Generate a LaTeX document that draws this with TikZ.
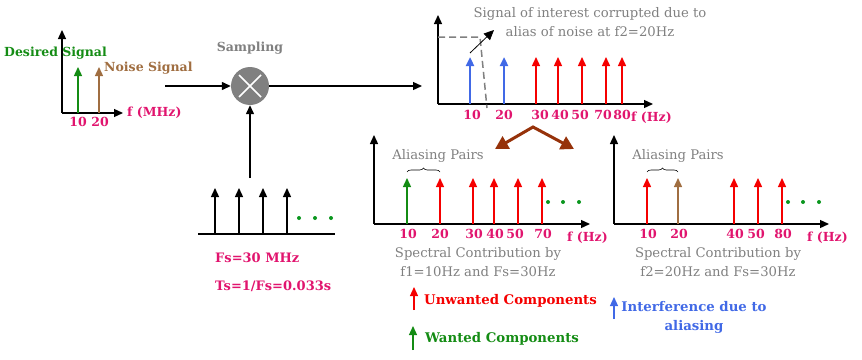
\documentclass[tikz,border=0pt]{standalone}
\usepackage{fontspec}
\setmainfont{DejaVu Serif}
\usepackage{xcolor}
\usetikzlibrary{arrows.meta,decorations.pathreplacing}

\definecolor{numpink}{RGB}{225,20,110}
\definecolor{desgreen}{RGB}{20,140,20}
\definecolor{dotgreen}{RGB}{10,150,30}
\definecolor{noisebrown}{RGB}{160,110,65}
\definecolor{pairbrown}{RGB}{150,50,10}
\definecolor{unwred}{RGB}{245,0,0}
\definecolor{intblue}{RGB}{65,105,230}
\definecolor{notegray}{RGB}{128,128,128}

\begin{document}
\begin{tikzpicture}[x=1pt,y=-1pt,>={Triangle[width=8pt,length=9pt]},
  axisline/.style={black,line width=1.3pt,->},
  flow/.style={black,line width=1.3pt,->},
  stem/.style={line width=1.4pt,-{Triangle[width=8pt,length=9pt]}},
  num/.style={text=numpink,font=\bfseries\fontsize{12.5}{14}\selectfont,inner sep=0pt},
  note/.style={text=notegray,font=\fontsize{13.2}{18.5}\selectfont,align=center,inner sep=0pt},
  tag/.style={font=\bfseries\fontsize{12.5}{19}\selectfont,inner sep=0pt,anchor=west},
  bigtag/.style={tag,font=\bfseries\fontsize{13.3}{19}\selectfont},
  pairbrace/.style={decorate,decoration={brace,amplitude=4pt},line width=0.6pt}]
\useasboundingbox (0,0) rectangle (862,359);

% input spectrum
\coordinate (in0) at (62,113);
\draw[axisline] (in0) -- ++(0,-83);
\draw[axisline] (in0) -- ++(61,0);
\draw[stem,desgreen] (78,113) -- (78,67);
\draw[stem,noisebrown] (99,113) -- (99,67);
\node[num] (in10) at (78,122) {10};
\node[num] (in20) at (100,122) {20};
\node[num,anchor=west] (inf) at (127,113) {f (MHz)};
\node[tag,text=desgreen] (desired) at (4,53) {Desired Signal};
\node[tag,text=noisebrown] (noise) at (104,68) {Noise Signal};

% mixer
\node[circle,fill=notegray,minimum size=38pt,inner sep=0pt] (mix) at (250,86) {};
\draw[white,line width=1.6pt] ([shift={(-11,-11)}]mix.center) -- ([shift={(11,11)}]mix.center);
\draw[white,line width=1.6pt] ([shift={(-11,11)}]mix.center) -- ([shift={(11,-11)}]mix.center);
\node[tag,anchor=center,text=notegray] (sampling) at (250,48) {Sampling};
\coordinate (src) at (165,86);
\coordinate (dst) at (422,86);
\coordinate (clk) at (250,178);
\draw[flow] (src) -- (mix);
\draw[flow] (mix) -- (dst);
\draw[flow] (clk) -- (mix);

% sampling comb
\coordinate (cb0) at (198,234);
\draw[line width=1.3pt] (cb0) -- ++(137,0);
\foreach \x in {215,239,263,287}
  \draw[stem,black] (\x,234) -- (\x,188);
\foreach \x in {299,315,331}
  \fill[dotgreen] (\x,218) circle (2pt);
\node[tag,text=numpink,font=\bfseries\fontsize{13}{19}\selectfont] (fs) at (215,258) {Fs=30 MHz};
\node[tag,text=numpink,font=\bfseries\fontsize{13}{19}\selectfont] (ts) at (215,286) {Ts=1/Fs=0.033s};

% sampled spectrum
\coordinate (top0) at (438,104);
\draw[axisline] (top0) -- (438,15);
\draw[axisline] (top0) -- (653,104);
\draw[gray,line width=1.5pt,dash pattern=on 7pt off 4pt] (438,37) -- (480,37) -- (487,108);
\foreach \x in {470,504}
  \draw[stem,intblue,line width=2.6pt] (\x,104) -- (\x,57);
\foreach \x in {536,558,582,606,622}
  \draw[stem,unwred] (\x,104) -- (\x,57);
\foreach \x/\f in {472/10,504/20,540/30,560/40,580/50,603/70,622/80}
  \node[num] (top\f) at (\x,115) {\f};
\node[num,anchor=west] (topf) at (631,118) {f (Hz)};
\node[note] (corrupt) at (590,22) {Signal of interest corrupted due to\\alias of noise at f2=20Hz};
\coordinate (hint) at (470,53);
\coordinate (hintend) at (494,30);
\draw[black,line width=0.8pt,-{Triangle[width=9pt,length=10pt]}] (hint) -- (hintend);

% split arrow
\coordinate (apex) at (533,127);
\coordinate (left) at (495,149);
\coordinate (right) at (574,149);
\draw[pairbrown,line width=3pt,{Triangle[width=14pt,length=13pt]}-{Triangle[width=14pt,length=13pt]}] (left) -- (apex) -- (right);

% contribution of f1
\coordinate (a0) at (374,224);
\draw[axisline] (a0) -- (374,135);
\draw[axisline] (a0) -- (590,224);
\draw[stem,desgreen] (407,224) -- (407,178);
\foreach \x in {440,473,494,518,542}
  \draw[stem,unwred] (\x,224) -- (\x,178);
\foreach \x in {548,563,579}
  \fill[dotgreen] (\x,202) circle (2pt);
\foreach \x/\f in {408/10,440/20,474/30,495/40,515/50,543/70}
  \node[num] (a\f) at (\x,234) {\f};
\node[num,anchor=west] (af) at (567,238) {f (Hz)};
\node[note] (apairs) at (438,156) {Aliasing Pairs};
\draw[pairbrace] (407,172) -- (440,172);
\node[note] (acontrib) at (478,262) {Spectral Contribution by\\f1=10Hz and Fs=30Hz};

% contribution of f2
\coordinate (b0) at (614,224);
\draw[axisline] (b0) -- (614,135);
\draw[axisline] (b0) -- (829,224);
\draw[stem,noisebrown] (678,224) -- (678,178);
\foreach \x in {647,734,758,782}
  \draw[stem,unwred] (\x,224) -- (\x,178);
\foreach \x in {788,803,819}
  \fill[dotgreen] (\x,202) circle (2pt);
\foreach \x/\f in {648/10,679/20,735/40,756/50,783/80}
  \node[num] (b\f) at (\x,234) {\f};
\node[num,anchor=west] (bf) at (807,238) {f (Hz)};
\node[note] (bpairs) at (678,156) {Aliasing Pairs};
\draw[pairbrace] (647,172) -- (678,172);
\node[note] (bcontrib) at (718,262) {Spectral Contribution by\\f2=20Hz and Fs=30Hz};

% legend
\draw[stem,unwred,line width=1.2pt] (414,310) -- (414,287);
\node[bigtag,text=unwred] (unwanted) at (424,301) {Unwanted Components};
\draw[stem,desgreen,line width=1.2pt] (413,350) -- (413,326);
\node[bigtag,text=desgreen] (wanted) at (425,339) {Wanted Components};
\draw[stem,intblue,line width=1.2pt] (614,319) -- (614,297);
\node[bigtag,anchor=center,align=center,text=intblue] (interf) at (694,317) {Interference due to\\aliasing};
\end{tikzpicture}
\end{document}
